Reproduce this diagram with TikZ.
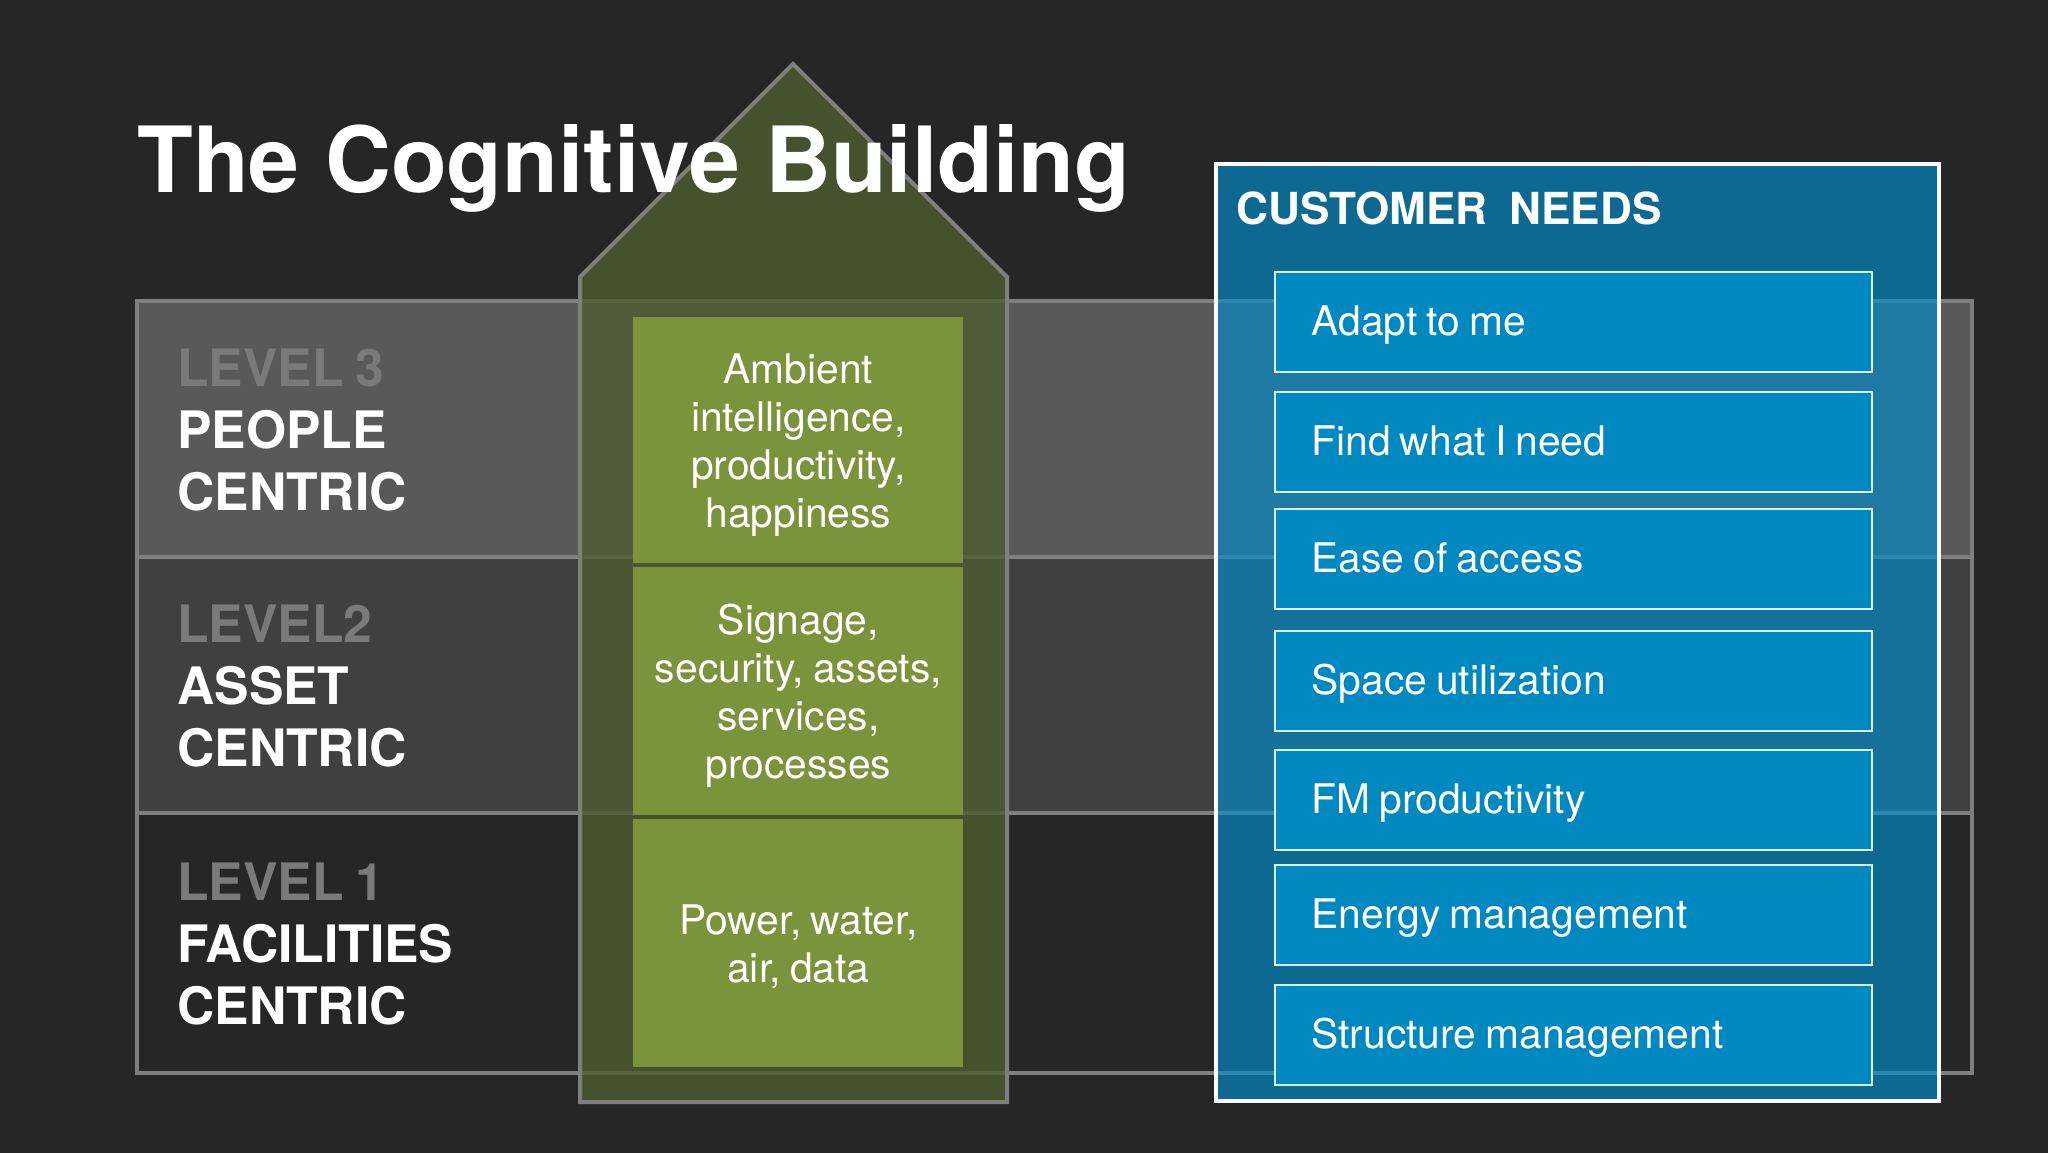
\documentclass[tikz,border=0pt]{standalone}
\usepackage{fontspec}
\setmainfont[WordSpace=0.8]{TeX Gyre Heros}
\newfontfamily\titlefont{TeX Gyre Heros}
\usetikzlibrary{positioning}

\definecolor{slide}{HTML}{262626}
\definecolor{bandhi}{HTML}{595959}
\definecolor{bandmid}{HTML}{404040}
\definecolor{edgegrey}{HTML}{7F7F7F}
\definecolor{levelgrey}{HTML}{7A7A7A}
\definecolor{housegreen}{HTML}{4E5D31}
\definecolor{cellgreen}{HTML}{7A943C}
\definecolor{needsblue}{HTML}{008DCB}
\definecolor{itemblue}{HTML}{0088C0}
\definecolor{itemedge}{HTML}{D8F4FA}
\newcommand{\celltop}[1][20pt]{\rule{0pt}{#1}}

\begin{document}
\begin{tikzpicture}[x=.5pt,y=-.5pt,
    band/.style={draw=edgegrey,line width=2pt,anchor=north west,minimum width=917.5pt,inner sep=0pt},
    leveltext/.style={align=left,inner sep=0pt,yshift=-.3pt,text=white,font=\fontsize{25.8}{31}\selectfont\bfseries},
    cell/.style={fill=cellgreen,anchor=north west,minimum width=165pt,inner sep=0pt,align=center,text=white,font=\fontsize{20.4}{24}\selectfont},
    needitem/.style={draw=itemedge,line width=1pt,fill=itemblue,anchor=north west,minimum width=298.5pt,minimum height=50pt,
      inner xsep=18.5pt,inner ysep=0pt,text width=261.5pt,align=flush left,text=white,text height=14.8pt,text depth=1.2pt,font=\fontsize{20.4}{24}\selectfont}]
    \useasboundingbox (0,0) rectangle (2048,1152);
    \fill[slide] (-10,-10) rectangle (2058,1162);

    \node[band,fill=bandhi,minimum height=128pt] (level3) at (135,299) {};
    \node[band,fill=bandmid,minimum height=128pt] (level2) at (135,555) {};
    \node[band,fill=slide,minimum height=130pt] (level1) at (135,811) {};

    \node[leveltext,anchor=west,right=21pt of level3.west] (text3) {\textcolor{levelgrey}{LEVEL 3}\\PEOPLE\\CENTRIC};
    \node[leveltext,anchor=west,right=21pt of level2.west] (text2) {\textcolor{levelgrey}{LEVEL2}\\ASSET\\CENTRIC};
    \node[leveltext,anchor=west,right=21pt of level1.west] (text1) {\textcolor{levelgrey}{LEVEL 1}\\FACILITIES\\CENTRIC};

    \fill[housegreen,fill opacity=.8] (580,277) -- (793,64) -- (1007,277) -- (1007,1102) -- (580,1102) -- cycle;
    \draw[edgegrey,line width=2pt] (580,277) -- (793,64) -- (1007,277) -- (1007,1102) -- (580,1102) -- cycle;

    \node[cell,minimum height=123pt] (cell3) at (633,317) {\celltop Ambient\\intelligence,\\productivity,\\happiness};
    \node[cell,minimum height=124pt] (cell2) at (633,567) {\celltop Signage,\\security, assets,\\services,\\processes};
    \node[cell,minimum height=124pt] (cell1) at (633,819) {\celltop[18pt]Power, water,\\air, data};

    \node[draw=white,line width=2pt,fill=needsblue,fill opacity=.65,anchor=north west,
      minimum width=361.5pt,minimum height=468.5pt,inner sep=0pt] (needs) at (1214,162) {};
    \node[anchor=west,inner sep=0pt,text=white,font=\fontsize{22.05}{24}\selectfont\bfseries] (needstitle) at (1236,208.5) {CUSTOMER\hspace{11pt}NEEDS};

    \node[needitem] (adapt) at (1273.5,271) {Adapt to me};
    \node[needitem] (find) at (1273.5,391) {Find what I need};
    \node[needitem] (ease) at (1273.5,508) {Ease of access};
    \node[needitem] (space) at (1273.5,630) {Space utilization};
    \node[needitem] (fm) at (1273.5,749) {FM productivity};
    \node[needitem] (energy) at (1273.5,864) {Energy management};
    \node[needitem] (structure) at (1273.5,984) {Structure management};

    \node[anchor=base west,inner sep=0pt,text=white,font=\titlefont\fontsize{45.65}{50}\selectfont\bfseries] (title) at (137,192.5) {The Cognitive Building};
  \end{tikzpicture}
\end{document}
